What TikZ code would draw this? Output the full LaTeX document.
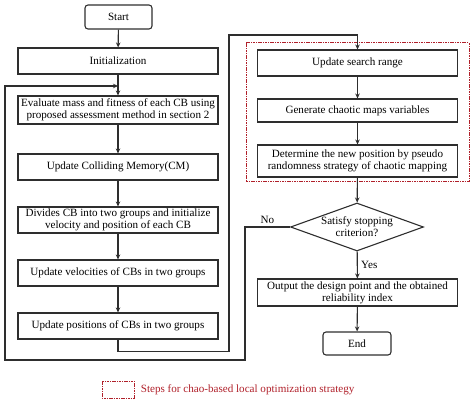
\documentclass[tikz,border=0pt]{standalone}
\usepackage{fontspec}
\setmainfont{Liberation Serif}
\usetikzlibrary{arrows.meta, positioning, shapes.geometric}
\definecolor{FlowGray}{HTML}{2E2E2E}
\definecolor{ChaoRed}{HTML}{B0202A}

\begin{document}
\begin{tikzpicture}[x=1pt, y=-1pt, >={Stealth[length=5pt, width=4.5pt]},
    line width=1.1pt, FlowGray,
    box/.style={draw, minimum width=200pt, minimum height=26pt, inner sep=1.5pt,
                align=center, text=black, font=\fontsize{11.1}{12}\selectfont},
    term/.style={box, rounded corners=3pt, minimum width=67pt, minimum height=24pt},
    decide/.style={box, diamond, aspect=2.77, inner sep=0pt,
                   minimum width=133pt, minimum height=48pt},
    lbl/.style={text=black, font=\fontsize{11.1}{12}\selectfont},
    chao/.style={draw=ChaoRed, dash pattern=on 1.6pt off 0.8pt, line width=1pt}]
  \useasboundingbox (0,0) rectangle (474,403);

  % left column: colliding bodies search
  \node[term] (start) at (118.5,17) {Start};
  \node[box] (init) at (118,61) {Initialization};
  \node[box, minimum height=28pt] (eval) at (118,110)
    {Evaluate mass and fitness of each CB using\\proposed assessment method in section 2};
  \node[box] (cm) at (118,167) {Update Colliding Memory(CM)};
  \node[box] (divide) at (118,220)
    {Divides CB into two groups and initialize\\velocity and position of each CB};
  \node[box] (veloc) at (118,273) {Update velocities of CBs in two groups};
  \node[box] (posit) at (118,326) {Update positions of CBs in two groups};
  \coordinate (merge) at (118,86);

  % right column: chaotic local search
  \node[box] (range) at (357.5,63) {Update search range};
  \node[box, minimum height=23pt] (chaos) at (357.5,110.5) {Generate chaotic maps variables};
  \node[box, minimum height=32pt] (newpos) at (357.5,161)
    {Determine the new position by pseudo\\randomness strategy of chaotic mapping};
  \node[decide] (stop) at (357,227) {Satisfy stopping\\criterion?};
  \node[box, minimum height=27pt] (output) at (357.5,292.5)
    {Output the design point and the obtained\\reliability index};
  \node[term, minimum width=68pt, minimum height=23pt] (finish) at (357,343.5) {End};

  \draw[chao] (246,43) rectangle (469,182);

  \draw[->] (start) -- (init);
  \draw[->] (init) -- (eval);
  \draw[->] (eval) -- (cm);
  \draw[->] (cm) -- (divide);
  \draw[->] (divide) -- (veloc);
  \draw[->] (veloc) -- (posit);
  \draw[->] (posit.south) -- ++(0,12) -| (229,35) -| (range.north);
  \draw[->] (range) -- (chaos);
  \draw[->] (chaos) -- (newpos);
  \draw[->] (newpos) -- (stop);
  \draw[->] (stop) -- node[lbl, right] (yes) {Yes} (output);
  \draw[->] (output) -- (finish);
  \draw[->] (stop.west) -- node[lbl, above] (no) {No} (245,227)
    |- (5,360) |- (merge);

  % legend
  \draw[chao] (102,381) rectangle (134,398);
  \node[right, text=ChaoRed, font=\fontsize{11.1}{12}\selectfont] (legend) at (137,390)
    {Steps for chao-based local optimization strategy};
\end{tikzpicture}
\end{document}
